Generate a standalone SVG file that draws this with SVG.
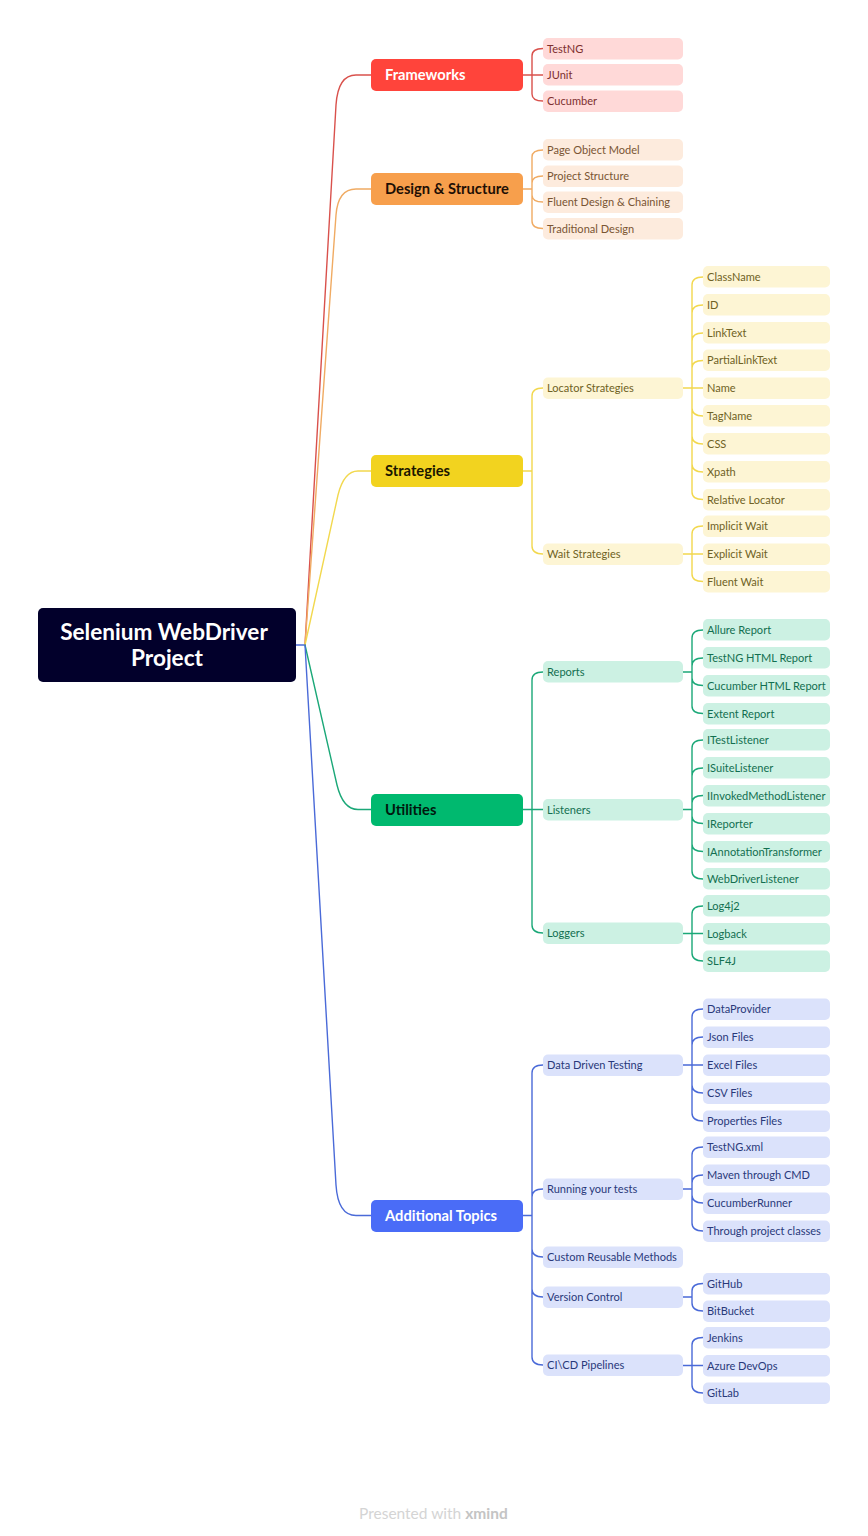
<svg xmlns="http://www.w3.org/2000/svg" width="868" height="1536" viewBox="0 0 868 1536">
<style>
text{font-family:"Lato","Open Sans","Liberation Sans",sans-serif}
.l1{font-size:14.7px;font-weight:700}
.l2,.l3{font-size:11.05px}
.r{fill:#ffd9d8}.rt{fill:#7d2f2f}.o{fill:#fdebdd}.ot{fill:#7a5533}.y{fill:#fdf5d4}.yt{fill:#6f6224}.g{fill:#ccf1e3}.gt{fill:#126f50}.b{fill:#dbe2fb}.bt{fill:#29397a}
path{fill:none;stroke-width:1.4;stroke-linecap:round}
.cr{stroke:#d9514c}.co{stroke:#f0ab63}.cy{stroke:#f2d84e}.cg{stroke:#1ba878}.cb{stroke:#4a6ad8}
</style>
<rect width="868" height="1536" fill="#fff"/>
<g id="connectors">
<path d="M296 645H305" class="cb"/>
<path class="cr" d="M305 645L336 105Q338 75 356 75H371M523 75H543M532 75V56Q532 48.500 543 48.500M532 75V94Q532 101 543 101"/>
<path class="co" d="M305 645L336 215Q338 189 356 189H371M523 189H532M532 189V157Q532 150 543 150M532 189V183Q532 176 543 176M532 189V195Q532 202 543 202M532 189V221Q532 228.500 543 228.500"/>
<path class="cy" d="M305 645L338 495Q344 471 358 471H371M523 471H532M532 471V396Q532 388 543 388M532 471V546Q532 554 543 554"/>
<path class="cy" d="M683 388H703M692 388V285Q692 277 703 277M692 388V313Q692 305 703 305M692 388V341Q692 333 703 333M692 388V368Q692 360.500 703 360.500M692 388V408Q692 416 703 416M692 388V436Q692 444 703 444M692 388V464Q692 472 703 472M692 388V492Q692 499.500 703 499.500"/>
<path class="cy" d="M683 554H703M692 554V534Q692 526 703 526M692 554V574Q692 581.500 703 581.500"/>
<path class="cg" d="M305 645L337 785Q343 809.500 358 809.500H371M523 809.500H543M532 809.500V680Q532 672 543 672M532 809.500V925Q532 933 543 933"/>
<path class="cg" d="M683 672H692M692 672V638Q692 630 703 630M692 672V666Q692 658 703 658M692 672V678Q692 685.500 703 685.500M692 672V706Q692 713.500 703 713.500"/>
<path class="cg" d="M683 809.500H692M692 809.500V748Q692 740 703 740M692 809.500V776Q692 768 703 768M692 809.500V803Q692 795.500 703 795.500M692 809.500V816Q692 823.500 703 823.500M692 809.500V844Q692 851.500 703 851.500M692 809.500V871Q692 879 703 879"/>
<path class="cg" d="M683 933.500H703M692 933.500V914Q692 906 703 906M692 933.500V953Q692 961 703 961"/>
<path class="cb" d="M305 645L336 1185Q338 1215.500 356 1215.500H371M523 1215.500H532M532 1215.500V1073Q532 1065 543 1065M532 1215.500V1197Q532 1189 543 1189M532 1215.500V1249Q532 1257 543 1257M532 1215.500V1289Q532 1297 543 1297M532 1215.500V1357Q532 1365 543 1365"/>
<path class="cb" d="M683 1065H703M692 1065V1017Q692 1009 703 1009M692 1065V1045Q692 1037 703 1037M692 1065V1085Q692 1093 703 1093M692 1065V1113Q692 1121 703 1121"/>
<path class="cb" d="M683 1189H692M692 1189V1155Q692 1147 703 1147M692 1189V1183Q692 1175 703 1175M692 1189V1195Q692 1203 703 1203M692 1189V1223Q692 1231 703 1231"/>
<path class="cb" d="M683 1297H692M692 1297V1291Q692 1283.500 703 1283.500M692 1297V1303Q692 1311 703 1311"/>
<path class="cb" d="M683 1365.500H703M692 1365.500V1345Q692 1337.500 703 1337.500M692 1365.500V1385Q692 1393 703 1393"/>
</g>
<g id="root"><rect x="38" y="608" width="258" height="74" rx="5" fill="#02002b"/><text x="164" y="640" text-anchor="middle" font-size="22.6" font-weight="700" fill="#fff">Selenium WebDriver</text><text x="167" y="666" text-anchor="middle" font-size="22.6" font-weight="700" fill="#fff">Project</text></g>
<g id="frameworks"><rect x="371" y="59" width="152" height="32" rx="5" fill="#ff443b"/><text class="l1" x="385" y="80" fill="#fff">Frameworks</text></g>
<g id="design"><rect x="371" y="173" width="152" height="32" rx="5" fill="#f79f4c"/><text class="l1" x="385" y="194" fill="#1e0f05">Design &amp; Structure</text></g>
<g id="strategies"><rect x="371" y="455" width="152" height="32" rx="5" fill="#f2d31f"/><text class="l1" x="385" y="476" fill="#1a1600">Strategies</text></g>
<g id="utilities"><rect x="371" y="794" width="152" height="32" rx="5" fill="#00b96f"/><text class="l1" x="385" y="814.500" fill="#00180e">Utilities</text></g>
<g id="additional"><rect x="371" y="1200" width="152" height="32" rx="5" fill="#4a6cf7"/><text class="l1" x="385" y="1220.500" fill="#fff">Additional Topics</text></g>

<g id="n1"><rect class="r" x="543" y="38" width="140" height="21.500" rx="5"/><text class="l2 rt" x="547" y="52.500">TestNG</text></g>
<g id="n2"><rect class="r" x="543" y="64" width="140" height="21.500" rx="5"/><text class="l2 rt" x="547" y="79">JUnit</text></g>
<g id="n3"><rect class="r" x="543" y="90.500" width="140" height="21.500" rx="5"/><text class="l2 rt" x="547" y="105">Cucumber</text></g>
<g id="n4"><rect class="o" x="543" y="139" width="140" height="21.500" rx="5"/><text class="l2 ot" x="547" y="153.500">Page Object Model</text></g>
<g id="n5"><rect class="o" x="543" y="165.500" width="140" height="21.500" rx="5"/><text class="l2 ot" x="547" y="180">Project Structure</text></g>
<g id="n6"><rect class="o" x="543" y="191.500" width="140" height="21.500" rx="5"/><text class="l2 ot" x="547" y="206">Fluent Design &amp; Chaining</text></g>
<g id="n7"><rect class="o" x="543" y="218" width="140" height="21.500" rx="5"/><text class="l2 ot" x="547" y="232.500">Traditional Design</text></g>
<g id="n8"><rect class="y" x="543" y="377.500" width="140" height="21.500" rx="5"/><text class="l2 yt" x="547" y="392">Locator Strategies</text></g>
<g id="n9"><rect class="y" x="543" y="543.500" width="140" height="21.500" rx="5"/><text class="l2 yt" x="547" y="558">Wait Strategies</text></g>
<g id="n10"><rect class="y" x="703" y="266" width="127" height="21.500" rx="5"/><text class="l3 yt" x="707" y="281">ClassName</text></g>
<g id="n11"><rect class="y" x="703" y="294" width="127" height="21.500" rx="5"/><text class="l3 yt" x="707" y="309">ID</text></g>
<g id="n12"><rect class="y" x="703" y="322" width="127" height="21.500" rx="5"/><text class="l3 yt" x="707" y="336.500">LinkText</text></g>
<g id="n13"><rect class="y" x="703" y="349.500" width="127" height="21.500" rx="5"/><text class="l3 yt" x="707" y="364">PartialLinkText</text></g>
<g id="n14"><rect class="y" x="703" y="377.500" width="127" height="21.500" rx="5"/><text class="l3 yt" x="707" y="392">Name</text></g>
<g id="n15"><rect class="y" x="703" y="405" width="127" height="21.500" rx="5"/><text class="l3 yt" x="707" y="420">TagName</text></g>
<g id="n16"><rect class="y" x="703" y="433" width="127" height="21.500" rx="5"/><text class="l3 yt" x="707" y="448">CSS</text></g>
<g id="n17"><rect class="y" x="703" y="461" width="127" height="21.500" rx="5"/><text class="l3 yt" x="707" y="476">Xpath</text></g>
<g id="n18"><rect class="y" x="703" y="489" width="127" height="21.500" rx="5"/><text class="l3 yt" x="707" y="503.500">Relative Locator</text></g>
<g id="n19"><rect class="y" x="703" y="515.500" width="127" height="21.500" rx="5"/><text class="l3 yt" x="707" y="530">Implicit Wait</text></g>
<g id="n20"><rect class="y" x="703" y="543.500" width="127" height="21.500" rx="5"/><text class="l3 yt" x="707" y="558">Explicit Wait</text></g>
<g id="n21"><rect class="y" x="703" y="571" width="127" height="21.500" rx="5"/><text class="l3 yt" x="707" y="585.500">Fluent Wait</text></g>
<g id="n22"><rect class="g" x="543" y="661" width="140" height="21.500" rx="5"/><text class="l2 gt" x="547" y="675.500">Reports</text></g>
<g id="n23"><rect class="g" x="543" y="799" width="140" height="21.500" rx="5"/><text class="l2 gt" x="547" y="813.500">Listeners</text></g>
<g id="n24"><rect class="g" x="543" y="922.500" width="140" height="21.500" rx="5"/><text class="l2 gt" x="547" y="937">Loggers</text></g>
<g id="n25"><rect class="g" x="703" y="619" width="127" height="21.500" rx="5"/><text class="l3 gt" x="707" y="634">Allure Report</text></g>
<g id="n26"><rect class="g" x="703" y="647" width="127" height="21.500" rx="5"/><text class="l3 gt" x="707" y="662">TestNG HTML Report</text></g>
<g id="n27"><rect class="g" x="703" y="675" width="127" height="21.500" rx="5"/><text class="l3 gt" x="707" y="689.500">Cucumber HTML Report</text></g>
<g id="n28"><rect class="g" x="703" y="703" width="127" height="21.500" rx="5"/><text class="l3 gt" x="707" y="717.500">Extent Report</text></g>
<g id="n29"><rect class="g" x="703" y="729" width="127" height="21.500" rx="5"/><text class="l3 gt" x="707" y="744">ITestListener</text></g>
<g id="n30"><rect class="g" x="703" y="757" width="127" height="21.500" rx="5"/><text class="l3 gt" x="707" y="772">ISuiteListener</text></g>
<g id="n31"><rect class="g" x="703" y="785" width="127" height="21.500" rx="5"/><text class="l3 gt" x="707" y="799.500">IInvokedMethodListener</text></g>
<g id="n32"><rect class="g" x="703" y="813" width="127" height="21.500" rx="5"/><text class="l3 gt" x="707" y="827.500">IReporter</text></g>
<g id="n33"><rect class="g" x="703" y="841" width="127" height="21.500" rx="5"/><text class="l3 gt" x="707" y="855.500">IAnnotationTransformer</text></g>
<g id="n34"><rect class="g" x="703" y="868" width="127" height="21.500" rx="5"/><text class="l3 gt" x="707" y="883">WebDriverListener</text></g>
<g id="n35"><rect class="g" x="703" y="895" width="127" height="21.500" rx="5"/><text class="l3 gt" x="707" y="910">Log4j2</text></g>
<g id="n36"><rect class="g" x="703" y="923" width="127" height="21.500" rx="5"/><text class="l3 gt" x="707" y="937.500">Logback</text></g>
<g id="n37"><rect class="g" x="703" y="950.500" width="127" height="21.500" rx="5"/><text class="l3 gt" x="707" y="965">SLF4J</text></g>
<g id="n38"><rect class="b" x="543" y="1054.500" width="140" height="21.500" rx="5"/><text class="l2 bt" x="547" y="1069">Data Driven Testing</text></g>
<g id="n39"><rect class="b" x="543" y="1178.500" width="140" height="21.500" rx="5"/><text class="l2 bt" x="547" y="1193">Running your tests</text></g>
<g id="n40"><rect class="b" x="543" y="1246.500" width="140" height="21.500" rx="5"/><text class="l2 bt" x="547" y="1261">Custom Reusable Methods</text></g>
<g id="n41"><rect class="b" x="543" y="1286.500" width="140" height="21.500" rx="5"/><text class="l2 bt" x="547" y="1301">Version Control</text></g>
<g id="n42"><rect class="b" x="543" y="1354.500" width="140" height="21.500" rx="5"/><text class="l2 bt" x="547" y="1369">CI\CD Pipelines</text></g>
<g id="n43"><rect class="b" x="703" y="998.500" width="127" height="21.500" rx="5"/><text class="l3 bt" x="707" y="1013">DataProvider</text></g>
<g id="n44"><rect class="b" x="703" y="1026.500" width="127" height="21.500" rx="5"/><text class="l3 bt" x="707" y="1041">Json Files</text></g>
<g id="n45"><rect class="b" x="703" y="1054.500" width="127" height="21.500" rx="5"/><text class="l3 bt" x="707" y="1069">Excel Files</text></g>
<g id="n46"><rect class="b" x="703" y="1082.500" width="127" height="21.500" rx="5"/><text class="l3 bt" x="707" y="1097">CSV Files</text></g>
<g id="n47"><rect class="b" x="703" y="1110.500" width="127" height="21.500" rx="5"/><text class="l3 bt" x="707" y="1125">Properties Files</text></g>
<g id="n48"><rect class="b" x="703" y="1136.500" width="127" height="21.500" rx="5"/><text class="l3 bt" x="707" y="1151">TestNG.xml</text></g>
<g id="n49"><rect class="b" x="703" y="1164.500" width="127" height="21.500" rx="5"/><text class="l3 bt" x="707" y="1179">Maven through CMD</text></g>
<g id="n50"><rect class="b" x="703" y="1192.500" width="127" height="21.500" rx="5"/><text class="l3 bt" x="707" y="1207">CucumberRunner</text></g>
<g id="n51"><rect class="b" x="703" y="1220.500" width="127" height="21.500" rx="5"/><text class="l3 bt" x="707" y="1235">Through project classes</text></g>
<g id="n52"><rect class="b" x="703" y="1273" width="127" height="21.500" rx="5"/><text class="l3 bt" x="707" y="1287.500">GitHub</text></g>
<g id="n53"><rect class="b" x="703" y="1300.500" width="127" height="21.500" rx="5"/><text class="l3 bt" x="707" y="1315">BitBucket</text></g>
<g id="n54"><rect class="b" x="703" y="1327" width="127" height="21.500" rx="5"/><text class="l3 bt" x="707" y="1341.500">Jenkins</text></g>
<g id="n55"><rect class="b" x="703" y="1355" width="127" height="21.500" rx="5"/><text class="l3 bt" x="707" y="1369.500">Azure DevOps</text></g>
<g id="n56"><rect class="b" x="703" y="1382.500" width="127" height="21.500" rx="5"/><text class="l3 bt" x="707" y="1397">GitLab</text></g>
<text x="359" y="1519" font-size="15.5" fill="#d4d4d4">Presented with <tspan font-weight="700" fill="#c4c4c4">xmind</tspan></text>
</svg>
